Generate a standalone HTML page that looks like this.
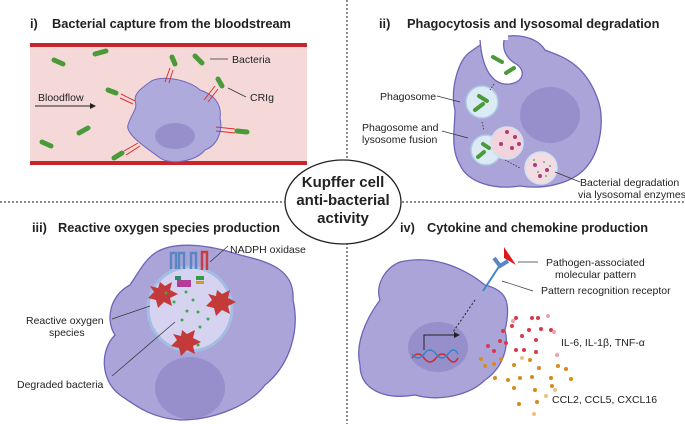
<!DOCTYPE html>
<html><head><meta charset="utf-8"><style>
body{margin:0;background:#fff}
svg{display:block}
text{font-family:"Liberation Sans",sans-serif;fill:#222}
.t{font-weight:bold;font-size:12.8px}
.l{font-size:10.5px}
</style></head><body>
<svg width="685" height="424" viewBox="0 0 685 424">
<rect width="685" height="424" fill="#fff"/>
<g stroke="#444" stroke-width="1.2" stroke-dasharray="2,2" fill="none">
<line x1="0" y1="202" x2="285" y2="202"/>
<line x1="402" y1="202" x2="685" y2="202"/>
<line x1="347" y1="0" x2="347" y2="162"/>
<line x1="347" y1="243" x2="347" y2="424"/>
</g>
<ellipse cx="343" cy="202" rx="58" ry="42" fill="#fff" stroke="#222" stroke-width="1.3"/>
<text x="343" y="187" text-anchor="middle" font-weight="bold" font-size="15">Kupffer cell</text>
<text x="343" y="205" text-anchor="middle" font-weight="bold" font-size="15">anti-bacterial</text>
<text x="343" y="223" text-anchor="middle" font-weight="bold" font-size="15">activity</text>

<!-- Panel i -->
<text class="t" x="30" y="28">i)</text><text class="t" x="52" y="28">Bacterial capture from the bloodstream</text>
<rect x="30" y="44" width="277" height="121" fill="#f5d9d9"/>
<rect x="30" y="43" width="277" height="4" fill="#c8262a"/>
<rect x="30" y="161" width="277" height="4" fill="#c8262a"/>
<path d="M150,82 C160,74 190,80 200,90 C215,95 222,105 220,118 C223,130 218,145 205,150 C195,162 170,165 160,158 C150,150 125,135 128,125 C132,112 138,110 135,100 C135,92 142,88 150,82Z" fill="#aeaadc" stroke="#6f68bb" stroke-width="1"/>
<ellipse cx="175" cy="136" rx="20" ry="13" fill="#978fcb"/>
<g stroke="#4a9a3a" stroke-width="5" stroke-linecap="round">
<line x1="54" y1="60" x2="63" y2="64"/><line x1="95" y1="54" x2="106" y2="51"/><line x1="195" y1="56" x2="202" y2="63"/>
<line x1="79" y1="133" x2="88" y2="128"/><line x1="42" y1="142" x2="51" y2="146"/><line x1="172" y1="57" x2="175" y2="64"/>
<line x1="108" y1="90" x2="116" y2="93"/><line x1="218" y1="79" x2="222" y2="86"/><line x1="237" y1="131" x2="247" y2="132"/><line x1="114" y1="158" x2="122" y2="153"/>
</g>
<g stroke="#d9302f" stroke-width="1">
<line x1="165" y1="82" x2="170" y2="68"/><line x1="169" y1="83" x2="173" y2="70"/>
<line x1="121" y1="94" x2="135" y2="101"/><line x1="120" y1="98" x2="133" y2="104"/>
<line x1="204" y1="100" x2="215" y2="86"/><line x1="208" y1="102" x2="218" y2="89"/>
<line x1="216" y1="127" x2="235" y2="129"/><line x1="216" y1="131" x2="235" y2="133"/>
<line x1="124" y1="151" x2="138" y2="143"/><line x1="126" y1="155" x2="140" y2="146"/>
</g>
<line x1="210" y1="59" x2="228" y2="59" stroke="#333" stroke-width="0.7"/>
<text class="l" x="232" y="63">Bacteria</text>
<line x1="228" y1="88" x2="246" y2="97" stroke="#333" stroke-width="0.7"/>
<text class="l" x="250" y="101">CRIg</text>
<text class="l" x="38" y="101">Bloodflow</text>
<line x1="35" y1="106" x2="90" y2="106" stroke="#222" stroke-width="1"/><path d="M90,103 L96,106 L90,109Z" fill="#222"/>

<!-- Panel ii -->
<text class="t" x="379" y="28">ii)</text><text class="t" x="407" y="28">Phagocytosis and lysosomal degradation</text>
<path d="M455,110 C450,90 458,60 470,52 C478,47 484,40 500,38 C510,34 535,34 545,50 C560,56 585,62 598,100 C605,120 600,150 588,165 C575,183 545,190 520,186 C495,190 468,183 460,165 C450,148 455,128 455,110Z" fill="#aba4d9" stroke="#6d64b8" stroke-width="1.3"/>
<path d="M480,40 C482,68 492,86 510,84 C524,82 526,70 516,64 C506,58 500,48 506,34 Z" fill="#fff"/>
<path d="M480,40 C482,68 492,86 510,84 C524,82 526,70 516,64 C506,58 500,48 506,34" fill="none" stroke="#6d64b8" stroke-width="1.3"/>
<rect x="478" y="28" width="30" height="12" fill="#fff"/>
<ellipse cx="550" cy="115" rx="30" ry="28" fill="#978fcb"/>
<circle cx="482" cy="102" r="16" fill="#dbeaf5" stroke="#a9cbe6" stroke-width="1.5"/>
<circle cx="486" cy="150" r="15" fill="#dbeaf5" stroke="#a9cbe6" stroke-width="1.5"/>
<circle cx="507" cy="143" r="16" fill="#f3d4dd" stroke="#cfe2f0" stroke-width="1.5"/>
<circle cx="541" cy="168" r="16" fill="#f3dce4" stroke="#cfe2f0" stroke-width="1.5"/>
<g stroke="#4a9a3a" stroke-width="4" stroke-linecap="round">
<line x1="493" y1="57" x2="502" y2="62"/><line x1="506" y1="73" x2="514" y2="68"/>
<line x1="479" y1="96" x2="487" y2="101"/><line x1="475" y1="110" x2="483" y2="104"/>
<line x1="483" y1="144" x2="489" y2="148"/><line x1="478" y1="157" x2="484" y2="152"/>
</g>
<g stroke="#333" stroke-width="0.8" stroke-dasharray="1.5,1.5"><line x1="494" y1="84" x2="490" y2="90"/><line x1="482" y1="122" x2="484" y2="130"/><line x1="505" y1="160" x2="520" y2="168"/></g>
<g fill="#b03a78"><circle cx="507" cy="132" r="2"/><circle cx="515" cy="137" r="2"/><circle cx="501" cy="144" r="2"/><circle cx="512" cy="148" r="2"/><circle cx="519" cy="144" r="2"/><circle cx="535" cy="165" r="2"/><circle cx="547" cy="170" r="2"/><circle cx="540" cy="176" r="2"/></g>
<g fill="#5cc05a"><circle cx="534" cy="160" r="1"/><circle cx="544" cy="162" r="1"/><circle cx="550" cy="166" r="1"/><circle cx="538" cy="172" r="1"/><circle cx="546" cy="176" r="1"/></g>
<g stroke="#333" stroke-width="0.7"><line x1="437" y1="96" x2="460" y2="102"/><line x1="442" y1="131" x2="468" y2="138"/><line x1="555" y1="172" x2="580" y2="182"/></g>
<text class="l" x="380" y="100">Phagosome</text>
<text class="l" x="362" y="131">Phagosome and</text><text class="l" x="362" y="143">lysosome fusion</text>
<text class="l" x="580" y="186">Bacterial degradation</text><text class="l" x="578" y="198">via lysosomal enzymes</text>

<!-- Panel iii -->
<text class="t" x="32" y="232">iii)</text><text class="t" x="58" y="232">Reactive oxygen species production</text>
<path d="M155,253 C175,240 210,245 240,255 C270,262 295,270 293,300 C300,330 290,365 265,385 C250,405 215,420 180,420 C150,418 135,405 120,395 C100,380 100,350 115,335 C105,320 110,295 130,285 C140,270 145,260 155,253Z" fill="#aba4d9" stroke="#6d64b8" stroke-width="1.3"/>
<ellipse cx="190" cy="388" rx="35" ry="31" fill="#978fcb"/>
<circle cx="190" cy="309" r="42" fill="#d5d3ef" stroke="#a6bde3" stroke-width="3"/>
<g fill="none" stroke-width="2.5"><path d="M171,269 v-16 h5 v16 M179,269 v-16 h5 v16 M191,269 v-16 h5 v16" stroke="#5b86c4"/><path d="M202,270 v-18 h5 v18" stroke="#cc3b3b"/></g>
<rect x="177" y="280" width="14" height="7" fill="#b23c9a"/><rect x="175" y="276" width="6" height="4" fill="#2f8a6a"/><rect x="196" y="276" width="8" height="4" fill="#3a9a44"/><rect x="196" y="281" width="8" height="3" fill="#d59a24"/>
<g fill="#c43a3a"><polygon points="160,282 165,286 172,282 170,290 178,294 170,298 172,306 164,302 158,308 156,300 148,298 154,292 150,286 158,288"/><polygon points="217,290 222,294 230,290 228,298 236,302 228,306 230,314 222,310 216,316 214,308 206,306 212,300 208,294 216,296"/><polygon points="182,330 187,334 195,330 193,338 201,342 193,346 195,354 187,350 181,356 179,348 171,346 177,340 173,334 181,336"/></g>
<g fill="#3aaa4a"><circle cx="166" cy="293" r="1.5"/><circle cx="186" cy="292" r="1.5"/><circle cx="193" cy="300" r="1.5"/><circle cx="187" cy="311" r="1.5"/><circle cx="198" cy="312" r="1.5"/><circle cx="182" cy="320" r="1.5"/><circle cx="208" cy="319" r="1.5"/><circle cx="200" cy="327" r="1.5"/><circle cx="198" cy="345" r="1.5"/><circle cx="174" cy="302" r="1.5"/></g>
<g stroke="#333" stroke-width="0.7"><line x1="210" y1="262" x2="228" y2="246"/><line x1="112" y1="319" x2="150" y2="306"/><line x1="112" y1="376" x2="175" y2="322"/></g>
<text class="l" x="230" y="253">NADPH oxidase</text>
<text class="l" x="26" y="324">Reactive oxygen</text><text class="l" x="49" y="336">species</text>
<text class="l" x="17" y="388">Degraded bacteria</text>

<!-- Panel iv -->
<text class="t" x="400" y="232">iv)</text><text class="t" x="427" y="232">Cytokine and chemokine production</text>
<path d="M400,262 C430,255 460,265 485,285 C505,290 512,300 505,330 C510,350 500,370 485,380 C470,395 440,402 415,395 C385,400 360,390 360,365 C355,345 365,320 380,300 C375,285 385,268 400,262Z" fill="#aba4d9" stroke="#6d64b8" stroke-width="1.3"/>
<ellipse cx="438" cy="347" rx="30" ry="25" fill="#978fcb"/>
<path d="M424,350 v-15 h30" fill="none" stroke="#222" stroke-width="1"/><path d="M454,332 l6,3 l-6,3Z" fill="#222"/>
<path d="M412,358 q6,-8 12,0 t12,0 t12,0 t10,0" fill="none" stroke="#cc2b2b" stroke-width="1.5"/>
<path d="M412,354 q6,8 12,0 t12,0 t12,0 t10,0" fill="none" stroke="#2f86c8" stroke-width="1.5"/>
<line x1="475" y1="300" x2="453" y2="332" stroke="#222" stroke-width="1" stroke-dasharray="2,2"/>
<line x1="483" y1="291" x2="500" y2="265" stroke="#3f88c8" stroke-width="2"/>
<path d="M494,258 l6,8 l8,-5" fill="none" stroke="#5b86c4" stroke-width="4"/>
<polygon points="504,258 516,265 504,247" fill="#dd1a1a"/>
<g stroke="#333" stroke-width="0.7"><line x1="518" y1="262" x2="538" y2="262"/><line x1="502" y1="281" x2="533" y2="291"/></g>
<text class="l" x="546" y="266">Pathogen-associated</text><text class="l" x="555" y="278">molecular pattern</text>
<text class="l" x="541" y="294">Pattern recognition receptor</text>
<text class="l" x="561" y="346">IL-6, IL-1β, TNF-α</text>
<text class="l" x="552" y="403">CCL2, CCL5, CXCL16</text>
<g fill="#d9394a"><circle cx="503" cy="331" r="2"/><circle cx="512" cy="326" r="2"/><circle cx="500" cy="341" r="2"/><circle cx="506" cy="343" r="2"/><circle cx="488" cy="346" r="2"/><circle cx="494" cy="351" r="2"/><circle cx="522" cy="336" r="2"/><circle cx="529" cy="330" r="2"/><circle cx="532" cy="318" r="2"/><circle cx="541" cy="329" r="2"/><circle cx="536" cy="340" r="2"/><circle cx="551" cy="330" r="2"/><circle cx="536" cy="352" r="2"/><circle cx="516" cy="350" r="2"/><circle cx="524" cy="350" r="2"/><circle cx="538" cy="318" r="2"/><circle cx="516" cy="318" r="2"/></g>
<g fill="#eea0a8"><circle cx="513" cy="321" r="2"/><circle cx="548" cy="316" r="2"/><circle cx="554" cy="332" r="2"/><circle cx="557" cy="355" r="2"/></g>
<g fill="#d98a1c"><circle cx="481" cy="359" r="2"/><circle cx="494" cy="364" r="2"/><circle cx="501" cy="359" r="2"/><circle cx="485" cy="366" r="2"/><circle cx="514" cy="365" r="2"/><circle cx="530" cy="360" r="2"/><circle cx="539" cy="368" r="2"/><circle cx="558" cy="366" r="2"/><circle cx="495" cy="378" r="2"/><circle cx="508" cy="380" r="2"/><circle cx="520" cy="378" r="2"/><circle cx="532" cy="377" r="2"/><circle cx="551" cy="378" r="2"/><circle cx="552" cy="386" r="2"/><circle cx="535" cy="390" r="2"/><circle cx="514" cy="388" r="2"/><circle cx="519" cy="404" r="2"/><circle cx="537" cy="402" r="2"/><circle cx="571" cy="379" r="2"/><circle cx="566" cy="369" r="2"/></g>
<g fill="#f0c080"><circle cx="522" cy="358" r="2"/><circle cx="546" cy="396" r="2"/><circle cx="534" cy="414" r="2"/><circle cx="555" cy="390" r="2"/></g>
</svg>
</body></html>
